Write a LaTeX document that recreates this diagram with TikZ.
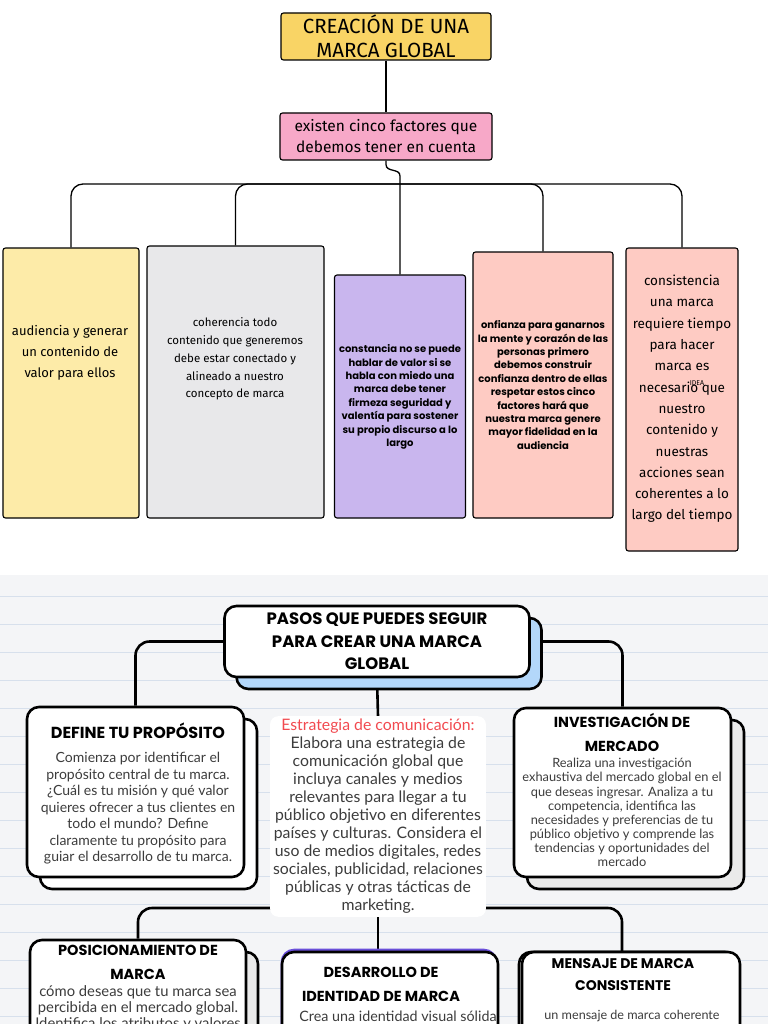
\documentclass[tikz,border=0pt]{standalone}
\usepackage{fontspec}
\setmainfont{Fira Sans}
\newfontfamily\popfont{Poppins}
\newfontfamily\latofont{Lato}
\usepackage{xcolor}
\definecolor{amarillo}{HTML}{F9D465}
\definecolor{rosa}{HTML}{F7A8C8}
\definecolor{crema}{HTML}{FDEBA8}
\definecolor{gris}{HTML}{E8E8EA}
\definecolor{lila}{HTML}{C9B6EE}
\definecolor{salmon}{HTML}{FECBC3}
\definecolor{papel}{HTML}{F4F5F7}
\definecolor{raya}{HTML}{D7E0EC}
\definecolor{celeste}{HTML}{B3D7FA}
\definecolor{rojo}{HTML}{F24A50}
\definecolor{cuerpogris}{HTML}{3C3C3C}
\definecolor{morado}{HTML}{6A4FD9}
\definecolor{sombragris}{HTML}{EAEAEA}
\pgfdeclarelayer{fondo}
\pgfdeclarelayer{lineas}
\pgfsetlayers{fondo,lineas,main}

\begin{document}
\begin{tikzpicture}[x=1pt,y=-1pt,
  caja/.style={draw,line width=1.1pt,rounded corners=2.5pt,inner sep=0pt},
  texto/.style={align=center,inner sep=0pt},
  mano/.style={texto,font=\fontsize{13}{21}\selectfont},
  negrita/.style={texto,font=\popfont\bfseries\fontsize{10}{13.4}\selectfont},
  linea/.style={line width=1.3pt},
  gruesa/.style={line width=2.6pt},
  tarjeta/.style={draw,line width=2.6pt,rounded corners=12pt,fill=white,inner sep=0pt},
  sombra/.style={tarjeta,fill=sombragris},
  cabeza/.style={texto,font=\popfont\bfseries\fontsize{14.5}{24}\selectfont},
  cuerpo/.style={texto,text=cuerpogris,font=\latofont\fontsize{14}{16.5}\selectfont}
]
  \useasboundingbox (0,0) rectangle (768,1024);
  \clip (0,0) rectangle (768,1024);
  \begin{pgfonlayer}{fondo}
    \fill[white] (0,0) rectangle (768,575);
    \fill[papel] (0,575) rectangle (768,1024);
    \foreach \ly in {596,624,...,1016}
      \draw[raya,line width=1pt] (0,\ly) -- (768,\ly);
  \end{pgfonlayer}

  \node[caja,fill=amarillo,minimum width=210,minimum height=47,texto,font=\fontsize{20.5}{23.5}\selectfont] (titulo) at (386,36.5) {CREACIÓN DE UNA\\MARCA GLOBAL};
  \node[caja,fill=rosa,minimum width=212,minimum height=47,texto,font=\fontsize{15.5}{21}\selectfont] (factores) at (386,136.5) {existen cinco factores que\\debemos tener en cuenta};

  \node[caja,fill=crema,minimum width=136,minimum height=270] (audiencia) at (71,383) {};
  \node[caja,fill=gris,minimum width=177,minimum height=272] (coherencia) at (235.5,382) {};
  \node[caja,fill=lila,minimum width=131,minimum height=243] (constancia) at (400,396.5) {};
  \node[caja,fill=salmon,minimum width=140,minimum height=266] (confianza) at (543,385) {};
  \node[caja,fill=salmon,minimum width=112,minimum height=303] (consistencia) at (682,399.5) {};

  \node[mano] (audienciaT) at (70,353) {audiencia y generar\\un contenido de\\valor para ellos};
  \node[mano,font=\fontsize{11.5}{17.8}\selectfont] (coherenciaT) at (235,359) {coherencia todo\\contenido que generemos\\debe estar conectado y\\alineado a nuestro\\concepto de marca};
  \node[negrita] (constanciaT) at (400,397) {constancia no se puede\\hablar de valor si se\\habla con miedo una\\marca debe tener\\firmeza seguridad y\\valentía para sostener\\su propio discurso a lo\\largo};
  \node[negrita] (confianzaT) at (543,385) {onfianza para ganarnos\\la mente y corazón de las\\personas primero\\debemos construir\\confianza dentro de ellas\\respetar estos cinco\\factores hará que\\nuestra marca genere\\mayor fidelidad en la\\audiencia};
  \node[mano,font=\fontsize{13.5}{21.3}\selectfont] (consistenciaT) at (682,399) {consistencia\\una marca\\requiere tiempo\\para hacer\\marca es\\necesario que\\nuestro\\contenido y\\nuestras\\acciones sean\\coherentes a lo\\largo del tiempo};
  \node[texto,font=\fontsize{7}{8}\selectfont] (idea) at (697,383) {IDEA};

  \coordinate (bus) at (0,184);
  \coordinate (codo) at (400,176);
  \begin{pgfonlayer}{lineas}
    \draw[linea] (titulo) -- (factores);
    \draw[linea] (factores.south) -- ++(0,4) .. controls +(0,8) and +(0,-8) .. (codo) -- (constancia.north);
    \draw[linea,rounded corners=12] (audiencia.north) -- (audiencia.north |- bus) -- (consistencia.north |- bus) -- (consistencia.north);
    \draw[linea,rounded corners=12] (coherencia.north) -- (coherencia.north |- bus) -- (confianza.north |- bus) -- (confianza.north);
  \end{pgfonlayer}

  \node[tarjeta,fill=celeste,minimum width=305,minimum height=71] (pasosS) at (389,653.5) {};
  \node[tarjeta,minimum width=305,minimum height=71,texto,font=\popfont\bfseries\fontsize{16.5}{22.5}\selectfont] (pasos) at (377,641.5) {PASOS QUE PUEDES SEGUIR\\PARA CREAR UNA MARCA\\GLOBAL};

  \node[tarjeta,minimum width=217,minimum height=170] (propositoS) at (148.5,804) {};
  \node[tarjeta,minimum width=217,minimum height=170] (proposito) at (135.5,792) {};
  \node[cabeza,font=\popfont\bfseries\fontsize{16}{24}\selectfont] (propositoC) at (138,731) {DEFINE TU PROPÓSITO};
  \node[cuerpo] (propositoT) at (138,808.5) {Comienza por identificar el\\propósito central de tu marca.\\¿Cuál es tu misión y qué valor\\quieres ofrecer a tus clientes en\\todo el mundo? Define\\claramente tu propósito para\\guiar el desarrollo de tu marca.};

  \node[texto,fill=white,rounded corners=8pt,inner sep=3pt,text=cuerpogris,font=\latofont\fontsize{15.8}{18}\selectfont] (estrategia) at (378,816.5) {\textcolor{rojo}{Estrategia de comunicación:}\\Elabora una estrategia de\\comunicación global que\\incluya canales y medios\\relevantes para llegar a tu\\público objetivo en diferentes\\países y culturas. Considera el\\uso de medios digitales, redes\\sociales, publicidad, relaciones\\públicas y otras tácticas de\\marketing.};

  \node[sombra,minimum width=217,minimum height=169] (mercadoS) at (635.5,804.5) {};
  \node[tarjeta,minimum width=217,minimum height=169] (mercado) at (622.5,792.5) {};
  \node[cabeza] (mercadoC) at (622,732) {INVESTIGACIÓN DE\\MERCADO};
  \node[cuerpo,font=\latofont\fontsize{12.8}{14.1}\selectfont] (mercadoT) at (622,812.5) {Realiza una investigación\\exhaustiva del mercado global en el\\que deseas ingresar. Analiza a tu\\competencia, identifica las\\necesidades y preferencias de tu\\público objetivo y comprende las\\tendencias y oportunidades del\\mercado};

  \node[sombra,minimum width=216,minimum height=100] (posicionS) at (150,1002) {};
  \node[tarjeta,minimum width=216,minimum height=100] (posicion) at (138,990) {};
  \node[cabeza] (posicionC) at (138,962) {POSICIONAMIENTO DE\\MARCA};
  \node[cuerpo,font=\latofont\fontsize{14.8}{16}\selectfont] (posicionT) at (138,1008) {cómo deseas que tu marca sea\\percibida en el mercado global.\\Identifica los atributos y valores};

  \node[tarjeta,draw=morado,fill=morado,minimum width=214,minimum height=88] (desarrolloS) at (389,994) {};
  \node[tarjeta,minimum width=216,minimum height=88] (desarrollo) at (390,996) {};
  \node[cabeza] (desarrolloC) at (381,984) {DESARROLLO DE\\IDENTIDAD DE MARCA};
  \node[cuerpo,font=\latofont\fontsize{14.3}{16}\selectfont] (desarrolloT) at (398,1016) {Crea una identidad visual sólida};

  \node[tarjeta,minimum width=218,minimum height=88] (mensajeS) at (628,996) {};
  \node[tarjeta,minimum width=218,minimum height=88] (mensaje) at (631,996) {};
  \node[cabeza,font=\popfont\bfseries\fontsize{14}{22}\selectfont] (mensajeC) at (623,975) {MENSAJE DE MARCA\\CONSISTENTE};
  \node[cuerpo,font=\latofont\fontsize{12.6}{16}\selectfont] (mensajeT) at (632,1016) {un mensaje de marca coherente};

  \coordinate (bus2) at (0,908);
  \coordinate (gotaM) at (622,952);
  \begin{pgfonlayer}{lineas}
    \draw[gruesa,rounded corners=14] (pasos.west) -| (proposito.north);
    \draw[gruesa,rounded corners=14] (pasos.east) -| (mercado.north);
    \draw[gruesa] (pasos.south) -- (estrategia.north);
    \draw[gruesa,rounded corners=14] (posicion.north) -- (posicion.north |- bus2) -- (gotaM |- bus2) -- (gotaM);
    \draw[gruesa] (estrategia.south) -- (estrategia.south |- desarrollo.north);
  \end{pgfonlayer}
\end{tikzpicture}
\end{document}
